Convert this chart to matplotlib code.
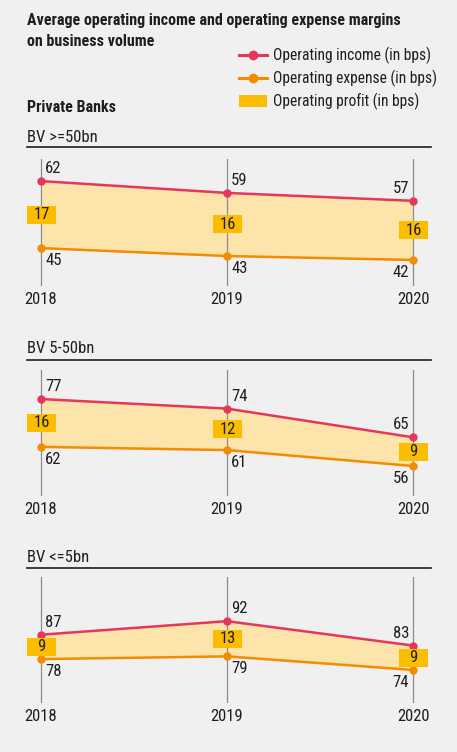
import matplotlib
matplotlib.use("Agg")
import matplotlib.pyplot as plt
import matplotlib.transforms as mtransforms
from matplotlib.lines import Line2D
from matplotlib.patches import Patch, Rectangle
from matplotlib import font_manager

years = ["2018", "2019", "2020"]
panel_titles = ["BV >=50bn", "BV 5-50bn", "BV <=5bn"]
income = [[62, 59, 57], [77, 74, 65], [87, 92, 83]]
expense = [[45, 43, 42], [62, 61, 56], [78, 79, 74]]
profit = [[17, 16, 16], [16, 12, 9], [9, 13, 9]]

# colours
BG = "#f0f0f0"
INC = "#e6375a"
EXP = "#f28c00"
FILL = "#fde4aa"
BOX = "#fbbd00"
GRID = "#8c8c8c"
TXT = "#1e1e1e"

names = {f.name for f in font_manager.fontManager.ttflist}
family = [f for f in ["Roboto Condensed", "Liberation Sans Narrow", "Liberation Sans", "DejaVu Sans"] if f in names]
plt.rcParams["font.family"] = family

W, H = 457, 752
fig = plt.figure(figsize=(W / 100, H / 100), dpi=100, facecolor=BG)


def fx(px):
    return px / W


def fy(py):
    return 1 - py / H


# header
fig.text(fx(27), fy(25), "Average operating income and operating expense margins",
         fontsize=11.5, fontweight="bold", color=TXT, va="baseline")
fig.text(fx(27), fy(45.5), "on business volume",
         fontsize=11.5, fontweight="bold", color=TXT, va="baseline")
fig.text(fx(27), fy(111.5), "Private Banks",
         fontsize=11.5, fontweight="bold", color=TXT, va="baseline")

handles = [
    Line2D([], [], color=INC, lw=2.2, marker="o", markersize=6),
    Line2D([], [], color=EXP, lw=2.2, marker="o", markersize=6),
    Patch(facecolor=BOX, edgecolor="none"),
]
labels = ["Operating income (in bps)", "Operating expense (in bps)", "Operating profit (in bps)"]
fig.legend(handles, labels, loc="upper left", bbox_to_anchor=(fx(239), fy(47)),
           frameon=False, fontsize=11.2, handlelength=1.8, handleheight=0.85,
           handletextpad=0.38, labelspacing=0.37, borderpad=0, borderaxespad=0,
           labelcolor=TXT)

# panel layout in pixels: (title baseline, rule y, axes top, axes bottom, ylim)
layout = [
    (142.5, 147, 159, 286, (35.4, 67.6)),
    (353.3, 360, 370, 496, (46.6, 86.1)),
    (562.3, 568, 577, 703, (61.8, 108.3)),
]
left_px, right_px, step_px = 27, 431, 186
xlo = -(41 - left_px) / step_px
xhi = 2 + (right_px - 413) / step_px

for k in range(3):
    tb, rule, top, bot, ylim = layout[k]
    fig.text(fx(27), fy(tb), panel_titles[k], fontsize=12, color=TXT, va="baseline")
    fig.add_artist(Line2D([fx(left_px), fx(right_px)], [fy(rule), fy(rule)],
                          color=TXT, lw=1.2))

    ax = fig.add_axes([fx(left_px), fy(bot), fx(right_px - left_px), (bot - top) / H])
    ax.set_facecolor("none")
    for s in ax.spines.values():
        s.set_visible(False)
    ax.set_xlim(xlo, xhi)
    ax.set_ylim(*ylim)
    ax.set_yticks([])
    x = list(range(len(years)))
    ax.set_xticks(x, years)
    ax.tick_params(axis="x", length=0, pad=4, labelsize=12, labelcolor=TXT)

    ax.fill_between(x, income[k], expense[k], color=FILL, lw=0, zorder=1)
    for xi in x:
        ax.axvline(xi, color=GRID, lw=0.9, zorder=2)
    ax.plot(x, income[k], color=INC, lw=1.8, marker="o", markersize=5, zorder=4)
    ax.plot(x, expense[k], color=EXP, lw=1.8, marker="o", markersize=5, zorder=4)

    for i in x:
        last = i == len(x) - 1
        ha = "right" if last else "left"
        dx = -4 if last else 4
        ax.annotate(str(income[k][i]), (i, income[k][i]), xytext=(dx, 5),
                    textcoords="offset pixels", ha=ha, va="bottom",
                    fontsize=12, color=TXT, zorder=6)
        ax.annotate(str(expense[k][i]), (i, expense[k][i]), xytext=(dx, -5),
                    textcoords="offset pixels", ha=ha, va="top",
                    fontsize=12, color=TXT, zorder=6)
        mid = (income[k][i] + expense[k][i]) / 2
        tr = mtransforms.ScaledTranslation(i, mid, ax.transData)
        ax.add_patch(Rectangle((-14, -9), 29, 18, transform=tr,
                               facecolor=BOX, edgecolor="none", zorder=5))
        ax.annotate(str(profit[k][i]), (i, mid), xytext=(0.5, 0),
                    textcoords="offset pixels", ha="center", va="center",
                    fontsize=12, color=TXT, zorder=6)

fig.savefig("out.png", dpi=100, facecolor=BG)
